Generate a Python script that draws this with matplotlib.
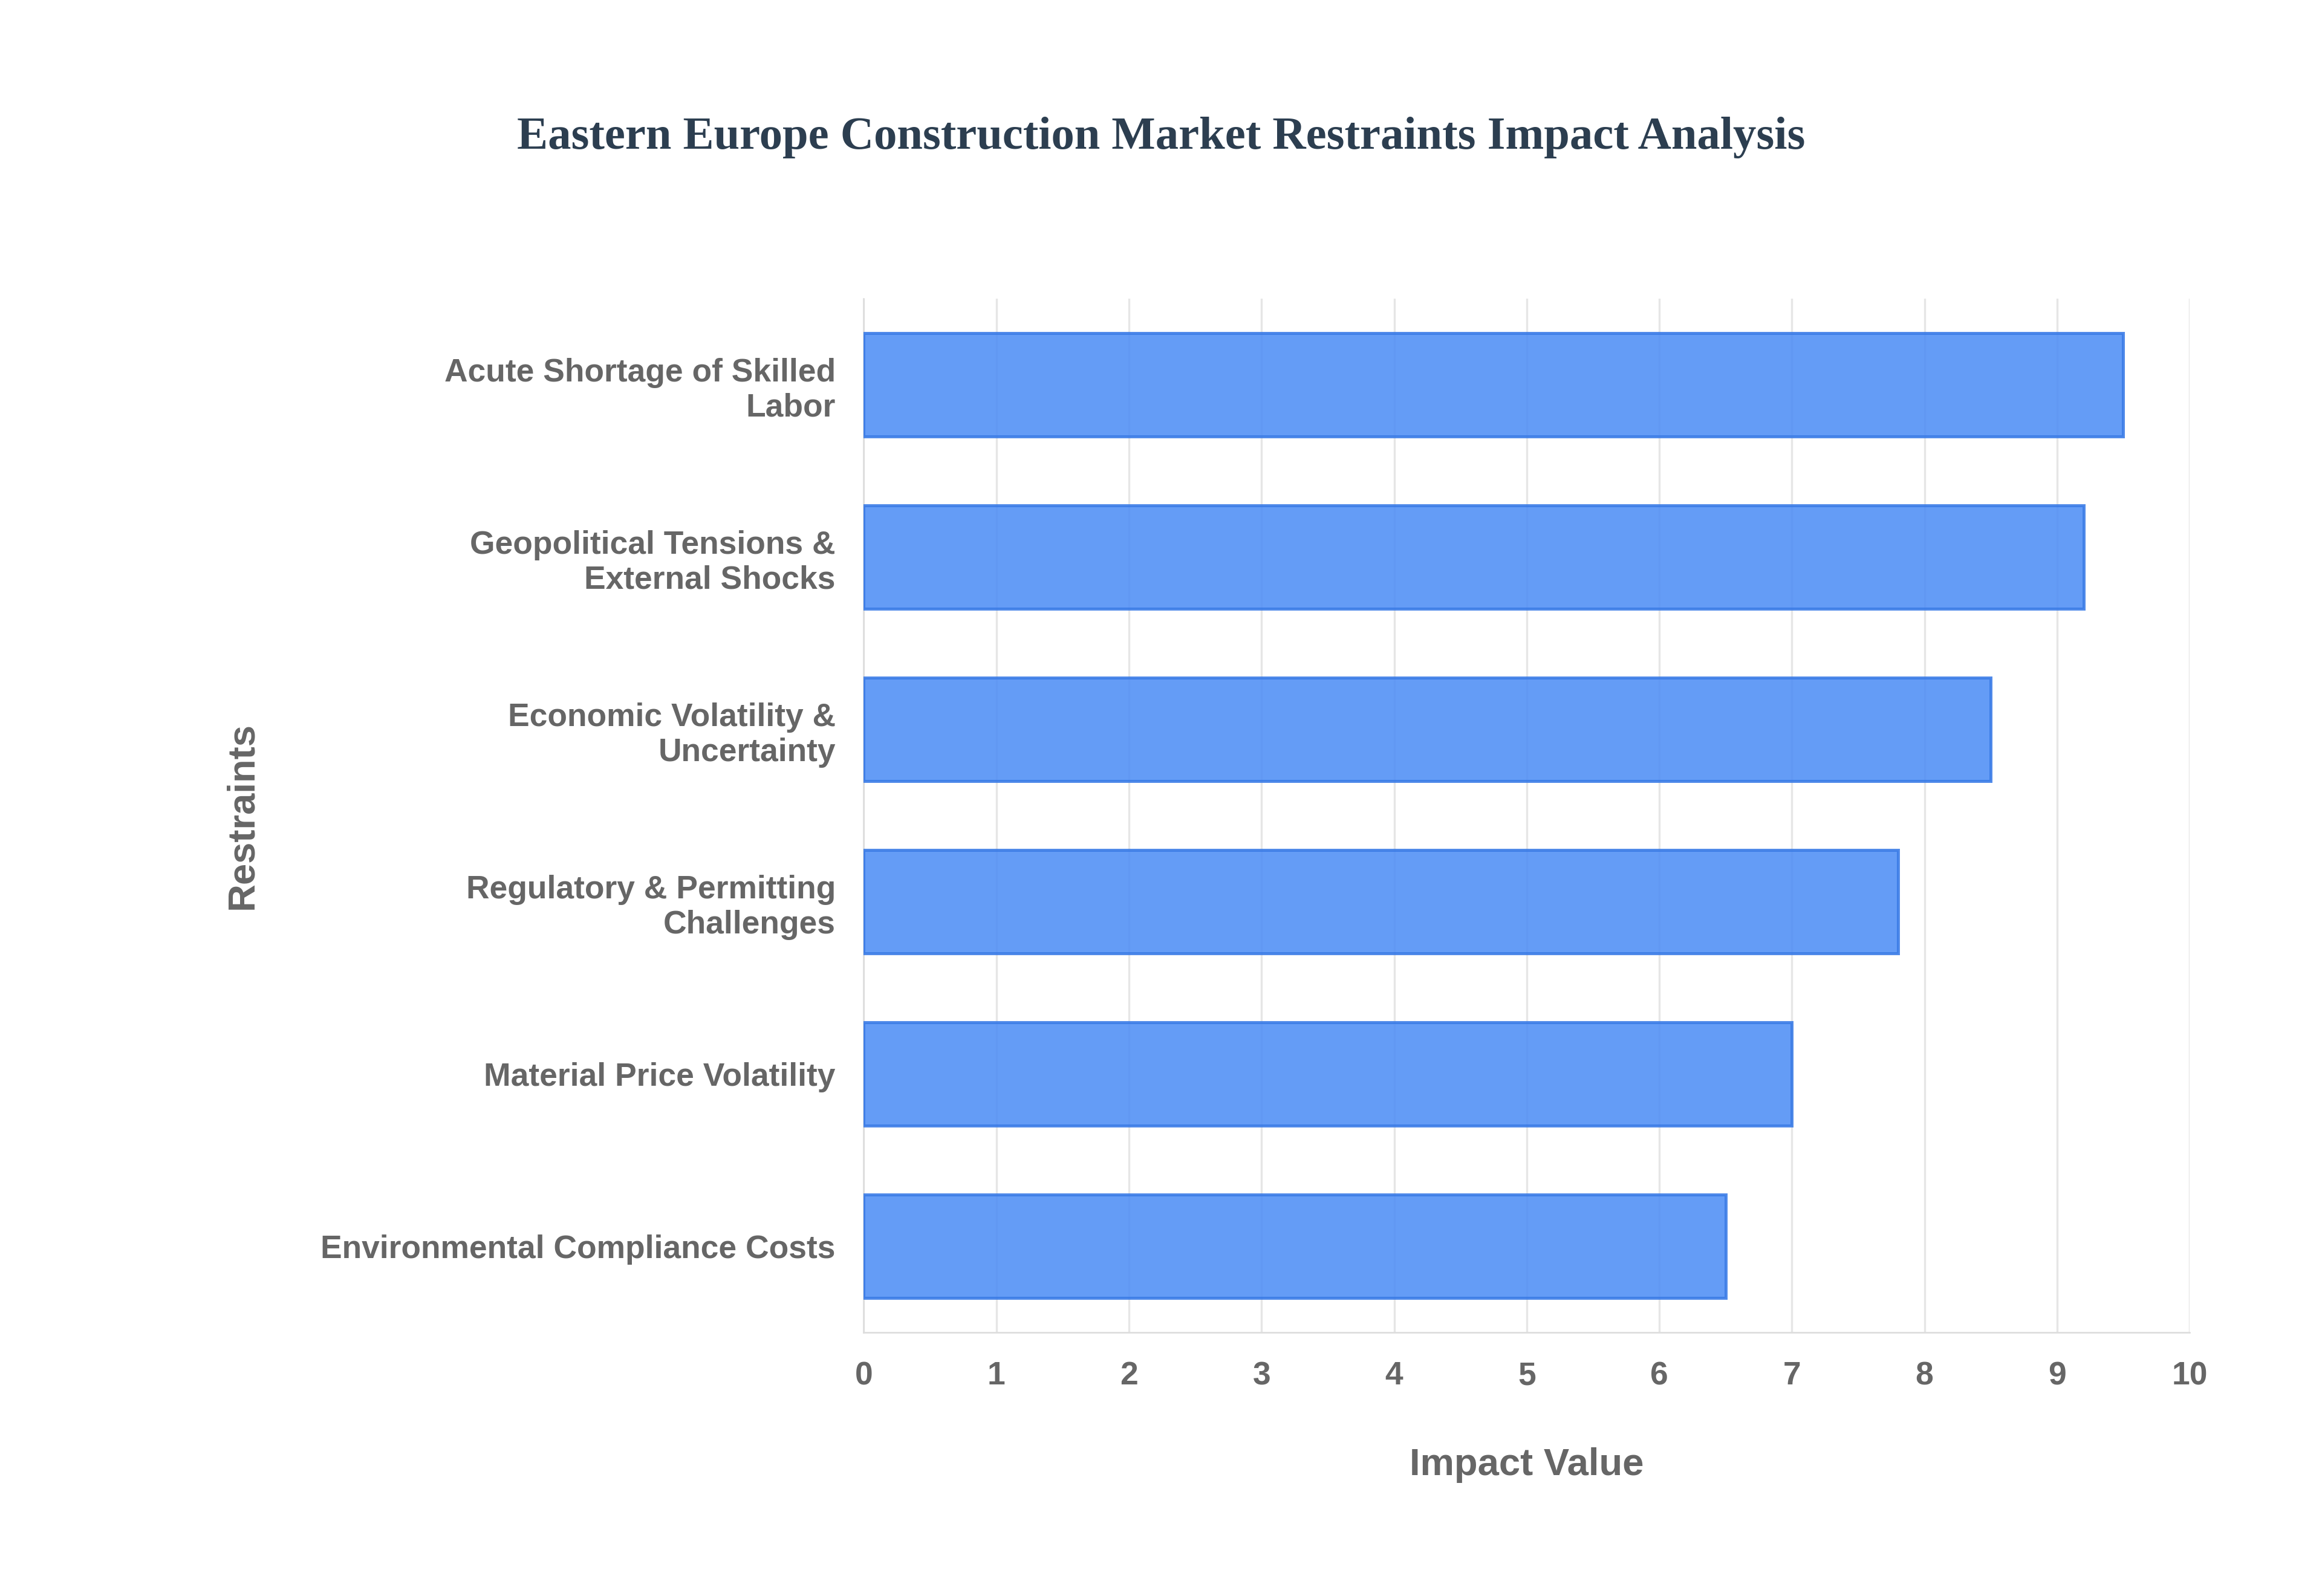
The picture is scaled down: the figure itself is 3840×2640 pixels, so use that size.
import matplotlib.pyplot as plt

restraints = [
    "Acute Shortage of Skilled\nLabor",
    "Geopolitical Tensions &\nExternal Shocks",
    "Economic Volatility &\nUncertainty",
    "Regulatory & Permitting\nChallenges",
    "Material Price Volatility",
    "Environmental Compliance Costs",
]
impact = [9.5, 9.2, 8.5, 7.8, 7.0, 6.5]

fig = plt.figure(figsize=(16, 11), dpi=240)
ax = fig.add_axes([0.372, 0.165, 0.571, 0.648])

ypos = list(range(len(restraints)))[::-1]
ax.barh(ypos, impact, height=0.6, color="#4f8ef5", alpha=0.88,
        edgecolor="#3a7be6", linewidth=1.5, zorder=3)

ax.set_xlim(0, 10)
ax.set_ylim(-0.5, 5.5)
ax.set_xticks(range(11))
ax.set_yticks(ypos)
ax.set_yticklabels(restraints)
for lab in ax.get_xticklabels() + ax.get_yticklabels():
    lab.set_fontfamily("Liberation Sans")
    lab.set_fontweight("bold")
    lab.set_color("#666666")
    lab.set_fontsize(16)
ax.tick_params(length=0, pad=14)
ax.grid(axis="x", color="#e6e6e6", linewidth=1, zorder=0)
for s in ["top", "right"]:
    ax.spines[s].set_visible(False)
for s in ["left", "bottom"]:
    ax.spines[s].set_color("#dddddd")

ax.set_xlabel("Impact Value", fontfamily="Liberation Sans", fontweight="bold",
              fontsize=19, color="#666666", labelpad=28)
ax.set_ylabel("Restraints", fontfamily="Liberation Sans", fontweight="bold",
              fontsize=19, color="#666666", labelpad=30)

fig.text(0.5, 0.914, "Eastern Europe Construction Market Restraints Impact Analysis",
         ha="center", va="center", fontfamily="Liberation Serif",
         fontweight="bold", fontsize=23, color="#2c3e50")

fig.savefig("out.png", dpi=240, facecolor="white")
